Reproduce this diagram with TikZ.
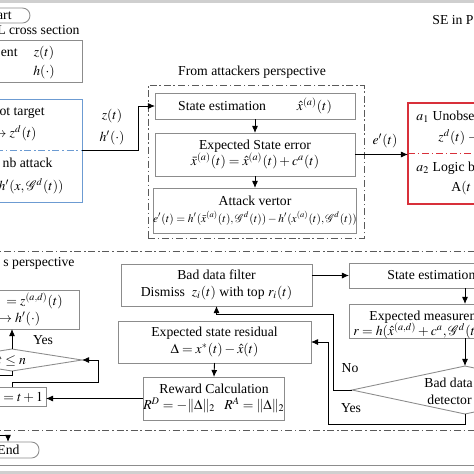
\documentclass[tikz,border=0pt]{standalone}
\usepackage{amsmath}
\usepackage{amssymb}
\usepackage{mathptmx}
\usepackage{fontspec}
\setmainfont{Liberation Serif}
\usetikzlibrary{arrows.meta,shapes.geometric}
\definecolor{boxgray}{HTML}{8C8C8C}
\definecolor{linegray}{HTML}{5A5A5A}
\definecolor{attblue}{HTML}{6C9BD2}
\definecolor{detred}{HTML}{D8303A}
\definecolor{bargray}{HTML}{CFCFCF}

\begin{document}
\begin{tikzpicture}[x=0.02cm,y=-0.02cm,>={Latex[length=4pt,width=3.4pt]},line width=0.5pt,
  every node/.style={font=\fontsize{7.8}{9.3}\selectfont},
  box/.style={draw=boxgray,line width=0.5pt,inner sep=0pt,outer sep=0pt},
  diam/.style={draw=boxgray,line width=0.5pt,shape=diamond,inner sep=0pt,outer sep=0pt},
  txt/.style={inner sep=0pt},
  ddash/.style={dash pattern=on 4pt off 1.6pt on 0.8pt off 1.6pt}]
\useasboundingbox (0,0) rectangle (474,474);
\clip (0,0) rectangle (474,474);
\fill[bargray] (0,0) rectangle (474,3);
\draw[boxgray] (0,465) -- (474,465);
\fill[bargray] (0,471) rectangle (474,474);

% upper half
\node[box,rounded corners=0.15cm,minimum width=1.4cm,minimum height=0.3cm] (start) at (-5,15.5) {};
\node[txt,anchor=east] at (12,16) {art};
\node[txt,anchor=east] at (80,30) {L cross section};
\node[txt,anchor=west] at (432,20) {SE in P};

\node[box,minimum width=2.84cm,minimum height=0.84cm] (meas) at (11,61) {};
\node[txt,anchor=east] at (18,53) {ent};
\node[txt] at (44,53) {$z(t)$};
\node[txt] at (44,72) {$h(\cdot)$};

\node[box,draw=attblue,minimum width=2.84cm,minimum height=2.06cm] (tgt) at (11,150.5) {};
\draw[attblue,ddash] (tgt.west) -- (tgt.east);
\node[txt,anchor=east] at (45,113) {ot target};
\node[txt,anchor=east] at (37,133) {$\rightarrow z^d(t)$};
\node[txt,anchor=east] at (53,163) {nb attack};
\node[txt,anchor=east] at (64,186) {$\rightarrow h'(x,\mathcal{G}^d(t))$};

\node[draw=linegray,ddash,minimum width=4.32cm,minimum height=3.06cm,inner sep=0pt] (atk) at (256,161.5) {};
\node[txt] at (252,72) {From attackers perspective};
\node[box,minimum width=4cm,minimum height=0.52cm] (se1) at (255,106) {State estimation \qquad $\hat{x}^{(a)}(t)$};
\node[box,minimum width=4cm,minimum height=0.86cm,align=center] (err) at (255,154.5)
  {Expected State error\\ $\bar{x}^{(a)}(t)=\hat{x}^{(a)}(t)+c^a(t)$};
\node[box,minimum width=4cm,minimum height=0.9cm,align=center] (att) at (255,210.5)
  {Attack vertor\\ {\fontsize{6.5}{7.5}\selectfont $e'(t)=h'(\bar{x}^{(a)}(t),\mathcal{G}^d(t))-h'(x^{(a)}(t),\mathcal{G}^d(t))$}};

\node[box,draw=detred,line width=0.9pt,minimum width=2.64cm,minimum height=2.02cm] (pss) at (474,153.5) {};
\draw[detred,ddash,line width=0.9pt] (pss.west) -- (pss.east);
\node[txt,anchor=west] at (416,117) {$a_1$ Unobserv};
\node[txt,anchor=west] at (438,137) {$z^d(t)\rightarrow$};
\node[txt,anchor=west] at (416,168) {$a_2$ Logic bo};
\node[txt,anchor=west] at (451,188) {A$(t\rightarrow$};

\draw[->] (tgt.east) -- ++(56,0) |- (se1.west);
\node[txt] at (112,116) {$z(t)$};
\node[txt] at (112,138) {$h'(\cdot)$};
\draw[->] (se1.south) -- (err.north);
\draw[->] (err.south) -- (att.north);
\draw[->] (err.east) -- (err.east -| pss.west);
\node[txt] at (385,141) {$e'(t)$};

% lower half
\draw[linegray,ddash] (-10,251) -- (484,251);
\draw[linegray,ddash] (-10,430) -- (484,430);
\node[txt,anchor=east] at (75,263) {s perspective};

\node[box,minimum width=2.78cm,minimum height=0.78cm] (dbox) at (9.5,309.5) {};
\node[txt,anchor=west] at (3,301) {${}=z^{(a,d)}(t)$};
\node[txt,anchor=west] at (-2,319) {$\rightarrow h'(\cdot)$};

\node[diam,minimum width=2.8cm,minimum height=0.44cm] (cnt) at (12,360) {};
\node[txt] at (12,361) {$t\le n$};
\node[box,minimum width=1.72cm,minimum height=0.38cm] (tbox) at (3,396.5) {};
\node[txt,anchor=west] at (0,397) {${}=t+1$};
\node[box,rounded corners=0.15cm,minimum width=1.78cm,minimum height=0.32cm] (endb) at (-5.5,450) {};
\node[txt,anchor=east] at (20,450) {End};

\node[box,minimum width=3.82cm,minimum height=0.84cm,align=center] (bdf) at (216.5,285)
  {Bad data filter\\ Dismiss\ \ $z_i(t)$\ with top $r_i(t)$};
\node[box,minimum width=3.86cm,minimum height=0.84cm,align=center] (esr) at (214.5,342)
  {Expected state residual\\ $\Delta=x^*(t)-\hat{x}(t)$};
\node[box,minimum width=2.72cm,minimum height=0.86cm,align=center] (rew) at (214,398.5)
  {Reward Calculation\\ $R^D=-\|\Delta\|_2\;\;\; R^A=\|\Delta\|_2$};

\node[box,minimum width=3.82cm,minimum height=0.5cm] (se2) at (444.5,275.5) {};
\node[txt,anchor=west] at (387,275) {State estimation};
\node[box,minimum width=3.82cm,minimum height=0.68cm] (emeas) at (444.5,321) {};
\node[txt,anchor=west] at (369,317) {Expected measurement};
\node[txt,anchor=west] at (353,331) {$r=h(\hat{x}^{(a,d)}+c^a,\mathcal{G}^d(t))$};
\node[diam,minimum width=4.52cm,minimum height=0.96cm] (bdd) at (465,390) {};
\node[txt,anchor=west] at (424,383) {Bad data};
\node[txt,anchor=west] at (427,400) {detector};

\draw[->] (cnt.north) -- (cnt.north |- dbox.south);
\node[txt] at (43,340) {Yes};
\draw[->] (cnt.south) -- ++(0,4) -| (-20,435) -| (8,0 |- endb.north);
\draw[->] (12,0 |- tbox.north) -- ++(0,-5) -- ++(86,0) |- (cnt.east);
\draw[->] (rew.west) -- (rew.west -| tbox.east);
\draw[->] (esr.south) -- (rew.north);
\draw[->] (bdf.east |- se2.west) -- (se2.west);
\draw[->] (465,0 |- se2.south) -- (465,0 |- emeas.north);
\draw[->] (465,0 |- emeas.south) -- (bdd.north);
\draw[->] (bdd.west) -- ++(-19,0) |- ([yshift=-0.16cm]bdf.south) -- (bdf.south);
\node[txt] at (350,368) {No};
\draw[->] (bdd.south) -- ++(0,10) -| ([xshift=0.34cm]esr.east) -- (esr.east);
\node[txt] at (351,408) {Yes};
\end{tikzpicture}
\end{document}
